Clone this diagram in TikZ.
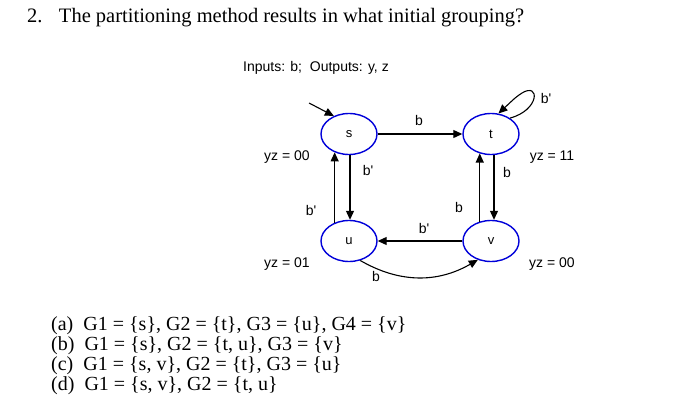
\documentclass[tikz,border=0pt]{standalone}
\usepackage{fontspec}
\setmainfont{Liberation Serif}
\newfontfamily\arialf{Liberation Sans}
\usetikzlibrary{arrows.meta,shapes.geometric}
\begin{document}
\begin{tikzpicture}[x=1pt,y=-1pt,
  st/.style={draw=blue!85!black,line width=1.4pt,ellipse,minimum width=56pt,minimum height=41pt,inner sep=0pt,font=\arialf\fontsize{13}{15}\selectfont},
  lab/.style={font=\arialf\fontsize{14}{16}\selectfont,inner sep=0pt},
  ar/.style={draw,line width=1.1pt,-{Triangle[length=9pt,width=8pt]}},
  opt/.style={font=\fontsize{20}{22}\selectfont,anchor=west,inner sep=0pt}]
\useasboundingbox (0,0) rectangle (690,412);
\node[font=\fontsize{20.5}{23}\selectfont,anchor=west,inner sep=0pt] (q) at (27,18) {2.\hspace{0.8em}The partitioning method results in what initial grouping?};
\node[lab] (io) at (316,68) {Inputs: b;\ \ Outputs: y, z};
\node[st] (s) at (349,134) {s};
\node[st] (t) at (491,134) {t};
\node[st] (u) at (349,241) {u};
\node[st] (v) at (491,241) {v};
\coordinate (i0) at (309,103);
\draw[ar] (i0) -- (s.130);
\draw[ar] (s) -- (t);
\draw[ar] ([xshift=1pt]s.south) -- ([xshift=1pt]u.north);
\draw[ar] (u.128) -- (s.232);
\draw[ar] ([xshift=3pt]t.south) -- ([xshift=3pt]v.north);
\draw[ar] (v.120) -- (t.240);
\draw[ar] (v) -- (u);
\draw[ar] (u.300) to[out=-30,in=210] (v.235);
\draw[ar] (t.40) .. controls (540,110) and (540,82) .. (522,93) .. controls (516,97) .. (t.70);
\node[lab] (l1) at (419,120) {b};
\node[lab] (l2) at (368,170) {b'};
\node[lab] (l3) at (311,210) {b'};
\node[lab] (l4) at (459,207) {b};
\node[lab] (l5) at (507,172) {b};
\node[lab] (l6) at (424,228) {b'};
\node[lab] (l7) at (376,276) {b};
\node[lab] (l8) at (546,98) {b'};
\node[lab] (y1) at (287,157) {yz = 00};
\node[lab] (y2) at (552,157) {yz = 11};
\node[lab] (y3) at (287,264) {yz = 01};
\node[lab] (y4) at (552,264) {yz = 00};
\node[opt] (a) at (51,326) {(a)\ \ G1 = \{s\}, G2 = \{t\}, G3 = \{u\}, G4 = \{v\}};
\node[opt] (b) at (51,346) {(b)\ \ G1 = \{s\}, G2 = \{t, u\}, G3 = \{v\}};
\node[opt] (c) at (51,366) {(c)\ \ G1 = \{s, v\}, G2 = \{t\}, G3 = \{u\}};
\node[opt] (d) at (51,386) {(d)\ \ G1 = \{s, v\}, G2 = \{t, u\}};
\end{tikzpicture}
\end{document}
